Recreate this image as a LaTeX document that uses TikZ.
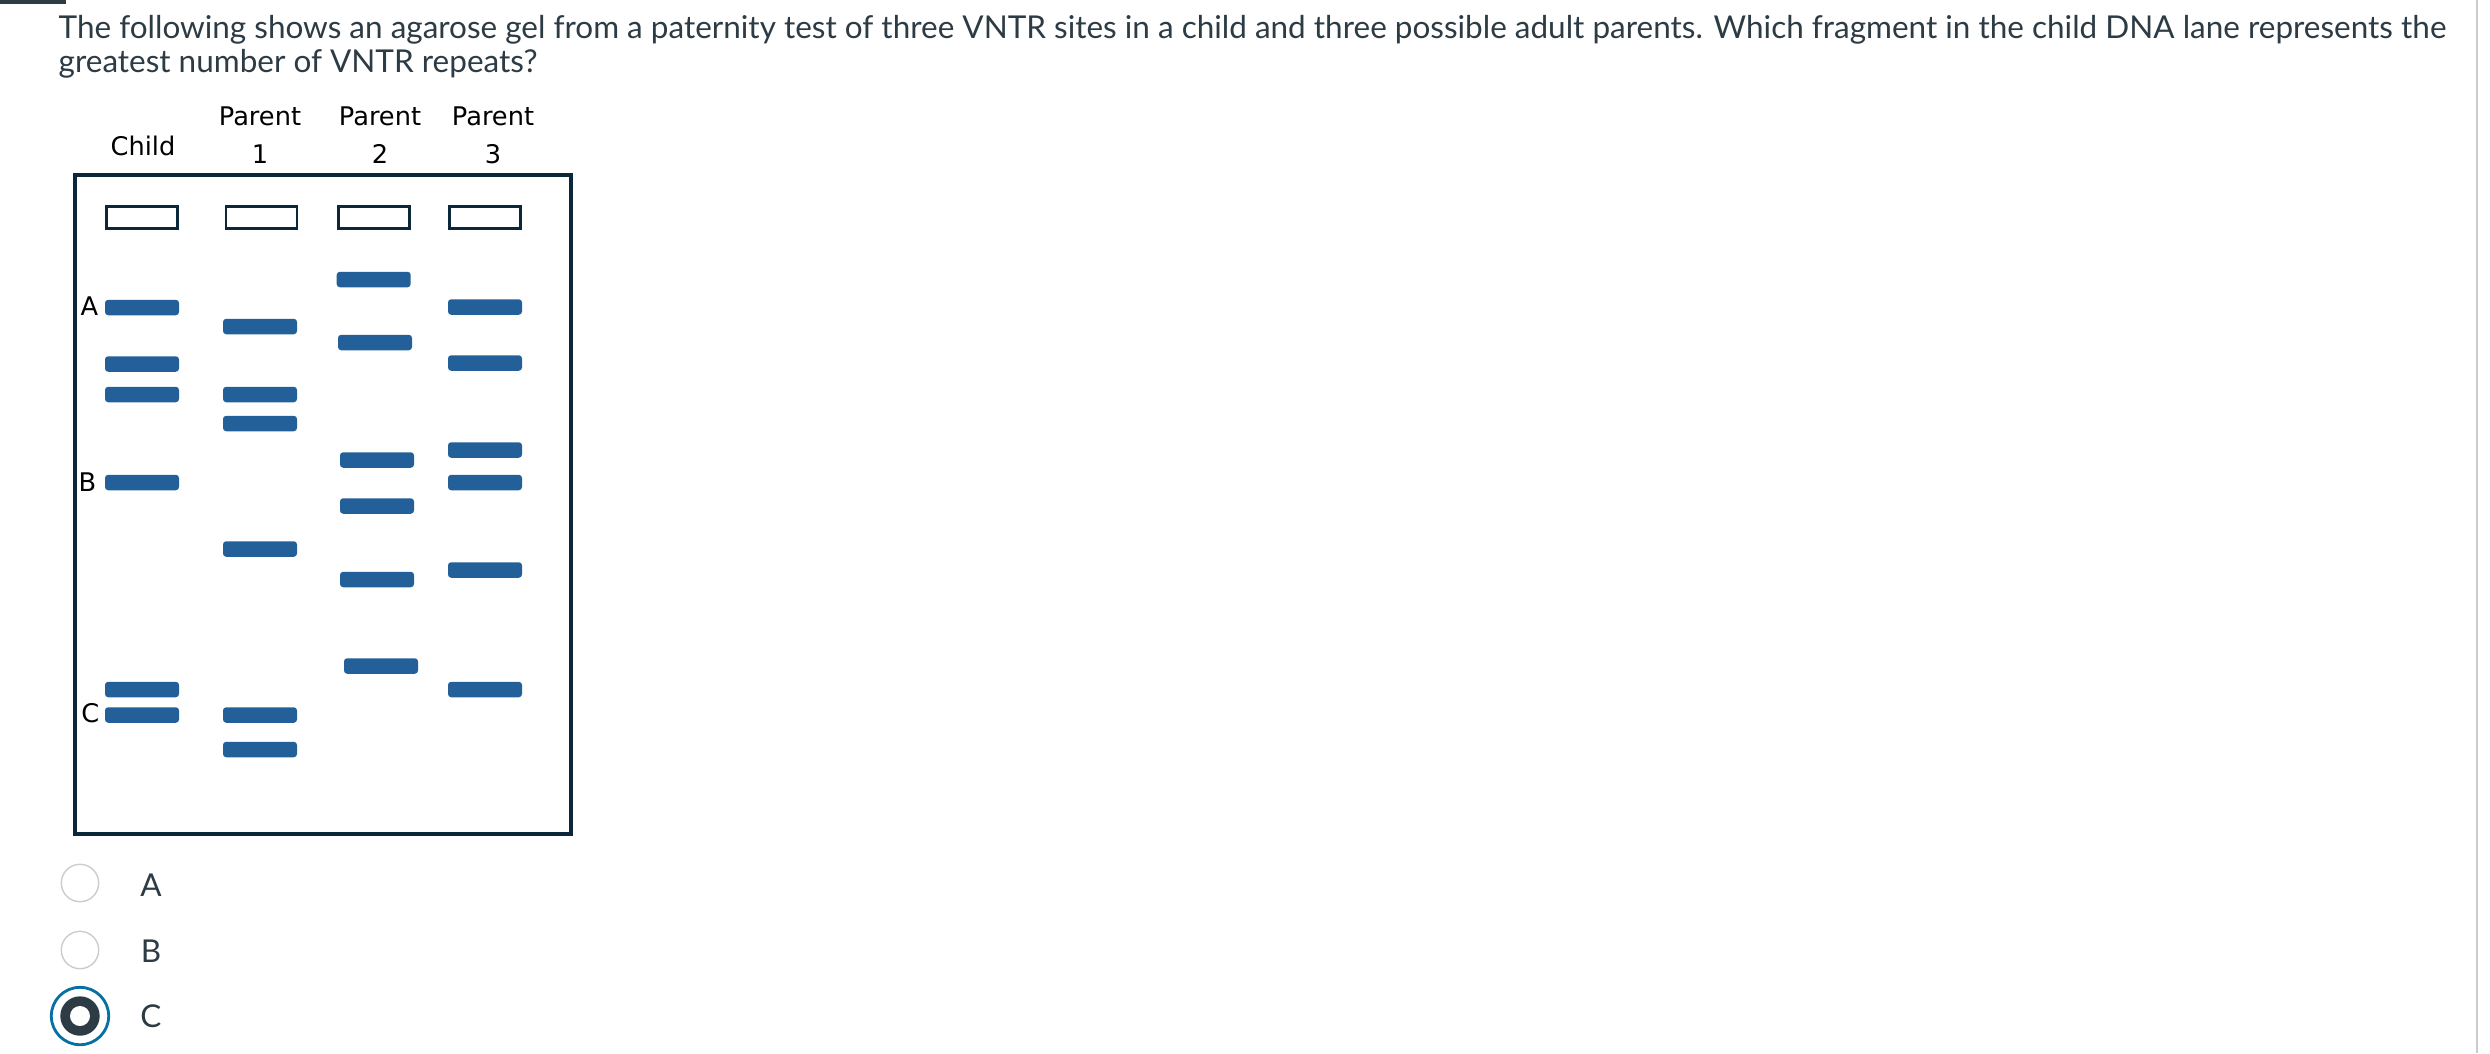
\documentclass[tikz,border=0pt]{standalone}
\usepackage{fontspec}
\setmainfont{Lato}
\newfontfamily\gelfont{DejaVu Sans}
\definecolor{canvasdark}{HTML}{2D3B45}
\definecolor{gelnavy}{HTML}{0B2739}
\definecolor{bandblue}{HTML}{23609A}
\definecolor{radiogray}{HTML}{C7CDD1}
\definecolor{radioblue}{HTML}{0770A3}
\begin{document}
\begin{tikzpicture}[x=0.01cm,y=-0.01cm,
    question/.style={font=\fontsize{8.95}{9.67}\selectfont,text=canvasdark,inner sep=0},
    lanelabel/.style={font=\gelfont\fontsize{7.3}{10.8}\selectfont,inner sep=0,align=center},
    band/.style={fill=bandblue,rounded corners=0.9pt},
    well/.style={draw=gelnavy,line width=0.85pt},
    radio/.style={draw=radiogray,line width=0.4pt}]
  \useasboundingbox (0,0) rectangle (2490,1053);
  \fill [canvasdark] (0,0) rectangle (66,4);
  \draw [radiogray,line width=0.6pt] (2477,0) -- (2477,1053);
  % question
  \node [question,anchor=base west,align=left] (title) at (58,72)
    {The following shows an agarose gel from a paternity test of three VNTR sites in a child and three possible adult parents. Which fragment in the child DNA lane represents the\\greatest number of VNTR repeats?};
  % lane headings
  \node [lanelabel,anchor=base] (child) at (143,155) {Child};
  \node [lanelabel,anchor=base] (parent1) at (260,163) {Parent\\1};
  \node [lanelabel,anchor=base] (parent2) at (380,163) {Parent\\2};
  \node [lanelabel,anchor=base] (parent3) at (493,163) {Parent\\3};
  % gel and wells
  \draw [gelnavy,line width=1.1pt] (75.3,174.7) rectangle (571.3,834);
  \foreach \x in {142,261.5,373.6,485}
    \draw [well] (\x-35.5,206.5) rectangle (\x+35.5,228.5);
  % bands
  \foreach \x/\y in {142/307.5,142/364,142/394.5,142/482.5,142/689.5,142/715,
                     260/326.5,260/394.5,260/423.5,260/549,260/715,260/749.5,
                     373.7/279.5,375/342.5,377/460,377/506,377/579.5,381/666,
                     485/307,485/363,485/450,485/482.5,485/570,485/689.5}
    \fill [band] (\x-37,\y-7.75) rectangle (\x+37,\y+7.75);
  \node [lanelabel,anchor=east] (fragA) at (99,306) {A};
  \node [lanelabel,anchor=east] (fragB) at (97,482) {B};
  \node [lanelabel,anchor=east] (fragC) at (100,713) {C};
  % answer options
  \draw [radio] (80,883) circle (18.7);
  \draw [radio] (80,950) circle (18.7);
  \draw [radioblue,line width=0.8pt] (80,1016) circle (28.7);
  \fill [canvasdark] (80,1016) circle (19.7);
  \fill [white] (80,1016) circle (10);
  \node [question,anchor=base] (optA) at (151,896) {A};
  \node [question,anchor=base] (optB) at (151,962) {B};
  \node [question,anchor=base] (optC) at (151,1027) {C};
\end{tikzpicture}
\end{document}
